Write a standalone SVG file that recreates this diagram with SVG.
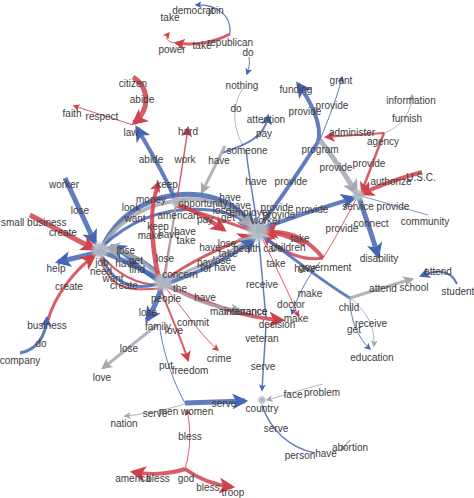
<svg xmlns="http://www.w3.org/2000/svg" width="474" height="498" viewBox="0 0 474 498">
<style>
text{font-family:"Liberation Sans",Arial,sans-serif;font-size:10px;fill:#3c3c3c;text-anchor:middle}
.e{fill:none;stroke-opacity:0.85;stroke-linecap:butt}
.b{stroke:#4466b3}.r{stroke:#d0414c}.g{stroke:#a4a8b0}
.hub{fill:url(#hubg)}
</style>
<defs>
<radialGradient id="hubg"><stop offset="0" stop-color="#a6b0bc"/><stop offset="0.55" stop-color="#b4bdc8" stop-opacity="0.9"/><stop offset="1" stop-color="#c8d0d8" stop-opacity="0"/></radialGradient>
<marker id="bS" viewBox="0 0 10 10" refX="8" refY="5" markerWidth="7" markerHeight="7" markerUnits="userSpaceOnUse" orient="auto"><path d="M0,0L10,5L0,10L2.5,5Z" fill="#4466b3"/></marker>
<marker id="bM" viewBox="0 0 10 10" refX="8" refY="5" markerWidth="11" markerHeight="11" markerUnits="userSpaceOnUse" orient="auto"><path d="M0,0L10,5L0,10L2.5,5Z" fill="#4466b3"/></marker>
<marker id="bL" viewBox="0 0 10 10" refX="8" refY="5" markerWidth="16" markerHeight="16" markerUnits="userSpaceOnUse" orient="auto"><path d="M0,0L10,5L0,10L2.5,5Z" fill="#4466b3"/></marker>
<marker id="rS" viewBox="0 0 10 10" refX="8" refY="5" markerWidth="7" markerHeight="7" markerUnits="userSpaceOnUse" orient="auto"><path d="M0,0L10,5L0,10L2.5,5Z" fill="#d0414c"/></marker>
<marker id="rM" viewBox="0 0 10 10" refX="8" refY="5" markerWidth="11" markerHeight="11" markerUnits="userSpaceOnUse" orient="auto"><path d="M0,0L10,5L0,10L2.5,5Z" fill="#d0414c"/></marker>
<marker id="rL" viewBox="0 0 10 10" refX="8" refY="5" markerWidth="16" markerHeight="16" markerUnits="userSpaceOnUse" orient="auto"><path d="M0,0L10,5L0,10L2.5,5Z" fill="#d0414c"/></marker>
<marker id="gS" viewBox="0 0 10 10" refX="8" refY="5" markerWidth="7" markerHeight="7" markerUnits="userSpaceOnUse" orient="auto"><path d="M0,0L10,5L0,10L2.5,5Z" fill="#a4a8b0"/></marker>
<marker id="gM" viewBox="0 0 10 10" refX="8" refY="5" markerWidth="11" markerHeight="11" markerUnits="userSpaceOnUse" orient="auto"><path d="M0,0L10,5L0,10L2.5,5Z" fill="#a4a8b0"/></marker>
<marker id="gL" viewBox="0 0 10 10" refX="8" refY="5" markerWidth="16" markerHeight="16" markerUnits="userSpaceOnUse" orient="auto"><path d="M0,0L10,5L0,10L2.5,5Z" fill="#a4a8b0"/></marker>
</defs>
<rect width="474" height="498" fill="#ffffff"/>
<g id="connectors">
<path class="e b" stroke-width="1.2" d="M230,34 C232,14 215,4 196,5" marker-end="url(#bS)"/>
<path class="e r" stroke-width="3" d="M230,34 C215,42 195,46 176,43" marker-end="url(#rM)"/>
<path class="e r" stroke-width="1" d="M176,43 C166,42 165,38 169,33" marker-end="url(#rS)"/>
<path class="e b" stroke-width="1" d="M249,57 C250,64 249,68 247,74" marker-end="url(#bS)"/>
<path class="e g" stroke-width="1" d="M243,88 C232,105 232,125 243,146"/>
<path class="e b" stroke-width="2" d="M222,153 C245,145 265,138 268,116" marker-end="url(#bM)"/>
<path class="e b" stroke-width="1.5" d="M246,150 C250,185 255,205 257,226" marker-end="url(#bS)"/>
<path class="e g" stroke-width="3" d="M225,146 L202,192" marker-end="url(#gM)"/>
<path class="e b" stroke-width="4" d="M258,229 C280,200 300,170 318,142 C323,125 310,100 298,84" marker-end="url(#bL)"/>
<path class="e b" stroke-width="1" d="M320,140 C330,115 338,95 342,77" marker-end="url(#bS)"/>
<path class="e g" stroke-width="5" d="M320,140 C335,160 348,178 356,193" marker-end="url(#gL)"/>
<path class="e r" stroke-width="2" d="M384,133 L326,137" marker-end="url(#rM)"/>
<path class="e g" stroke-width="1" d="M384,133 C400,128 412,112 412,95" marker-end="url(#gS)"/>
<path class="e r" stroke-width="2.5" d="M384,133 L362,191" marker-end="url(#rM)"/>
<path class="e r" stroke-width="4" d="M422,172 C400,178 380,185 361,194" marker-end="url(#rL)"/>
<path class="e b" stroke-width="4" d="M260,229 C290,218 320,208 354,198" marker-end="url(#bL)"/>
<path class="e b" stroke-width="5" d="M359,198 C365,215 372,235 378,256" marker-end="url(#bL)"/>
<path class="e b" stroke-width="0.8" d="M428,215 L361,196"/>
<path class="e r" stroke-width="1" d="M323,258 C335,240 347,215 357,198"/>
<path class="e r" stroke-width="4" d="M323,258 C305,235 285,230 265,232" marker-end="url(#rL)"/>
<path class="e r" stroke-width="3" d="M323,258 C300,262 280,250 264,237" marker-end="url(#rM)"/>
<path class="e b" stroke-width="3" d="M262,236 C290,255 320,280 350,298"/>
<path class="e g" stroke-width="3" d="M350,298 C375,290 395,284 412,279" marker-end="url(#gM)"/>
<path class="e b" stroke-width="2" d="M457,284 C452,272 440,268 421,276" marker-end="url(#bM)"/>
<path class="e b" stroke-width="1" d="M350,298 C350,320 358,338 370,349" marker-end="url(#bS)"/>
<path class="e g" stroke-width="1" d="M350,298 C365,310 375,325 374,346" marker-end="url(#gS)"/>
<path class="e b" stroke-width="1.5" d="M258,231 L266,318"/>
<path class="e b" stroke-width="1.5" d="M266,326 L262,390" marker-end="url(#bS)"/>
<path class="e r" stroke-width="1" d="M262,238 C275,265 290,295 298,316" marker-end="url(#rS)"/>
<path class="e b" stroke-width="1" d="M320,262 C305,280 296,300 292,314" marker-end="url(#bS)"/>
<path class="e r" stroke-width="4" d="M165,285 C200,300 240,318 282,320" marker-end="url(#rL)"/>
<path class="e g" stroke-width="3" d="M165,283 C190,300 215,308 240,310" marker-end="url(#gM)"/>
<path class="e r" stroke-width="1" d="M163,285 C185,310 200,335 218,350" marker-end="url(#rS)"/>
<path class="e r" stroke-width="2" d="M160,287 C168,310 180,335 188,360" marker-end="url(#rM)"/>
<path class="e b" stroke-width="5" d="M162,285 C158,300 152,312 147,320" marker-end="url(#bL)"/>
<path class="e g" stroke-width="3" d="M157,325 L103,368" marker-end="url(#gM)"/>
<path class="e b" stroke-width="1" d="M160,330 C165,360 175,385 185,403"/>
<path class="e b" stroke-width="5" d="M185,403 L245,401" marker-end="url(#bL)"/>
<path class="e g" stroke-width="1" d="M185,404 C165,410 145,414 125,416" marker-end="url(#gS)"/>
<path class="e r" stroke-width="1" d="M185,469 C192,445 190,425 187,410" marker-end="url(#rS)"/>
<path class="e r" stroke-width="4" d="M185,469 C170,474 150,475 133,472" marker-end="url(#rL)"/>
<path class="e r" stroke-width="4" d="M185,469 C200,480 215,485 232,487" marker-end="url(#rL)"/>
<path class="e g" stroke-width="1" d="M323,384 C300,390 285,395 267,400" marker-end="url(#gS)"/>
<path class="e b" stroke-width="1.5" d="M262,405 C270,430 290,448 315,453"/>
<path class="e g" stroke-width="1.5" d="M350,440 L341,450" marker-end="url(#gS)"/>
<path class="e b" stroke-width="5" d="M65,178 L95,243" marker-end="url(#bL)"/>
<path class="e r" stroke-width="5" d="M30,215 L94,249" marker-end="url(#rL)"/>
<path class="e b" stroke-width="5" d="M100,252 L58,262" marker-end="url(#bL)"/>
<path class="e r" stroke-width="3" d="M48,320 C55,295 75,270 94,256" marker-end="url(#rL)"/>
<path class="e b" stroke-width="3" d="M20,353 C35,350 45,340 47,318" marker-end="url(#bM)"/>
<path class="e b" stroke-width="5" d="M102,252 C120,258 140,268 160,280"/>
<path class="e b" stroke-width="3" d="M104,248 C130,252 150,262 162,278"/>
<path class="e r" stroke-width="2" d="M100,254 C120,278 140,285 160,285"/>
<path class="e b" stroke-width="4" d="M160,282 C140,270 128,255 113,246" marker-end="url(#bL)"/>
<path class="e b" stroke-width="3" d="M158,284 C130,292 110,280 102,257"/>
<path class="e g" stroke-width="4" d="M163,280 C145,262 130,252 107,248" marker-end="url(#gL)"/>
<path class="e r" stroke-width="2" d="M162,288 C130,292 110,290 100,258"/>
<path class="e b" stroke-width="5" d="M103,246 C120,210 160,190 200,195 C225,198 240,210 253,225" marker-end="url(#bL)"/>
<path class="e g" stroke-width="4" d="M103,246 C120,218 150,202 185,200"/>
<path class="e b" stroke-width="3" d="M103,246 C125,225 160,205 210,210 C230,212 245,220 252,228" marker-end="url(#bL)"/>
<path class="e r" stroke-width="1.5" d="M163,282 C172,230 182,170 188,128" marker-end="url(#rM)"/>
<path class="e b" stroke-width="4" d="M176,202 C165,175 150,150 137,128" marker-end="url(#bL)"/>
<path class="e r" stroke-width="5" d="M133,77 C150,88 150,110 134,123" marker-end="url(#rL)"/>
<path class="e r" stroke-width="1" d="M133,125 L74,106" marker-end="url(#rS)"/>
<path class="e r" stroke-width="3" d="M158,280 C150,240 148,210 158,183" marker-end="url(#rM)"/>
<path class="e r" stroke-width="2" d="M160,186 C150,200 152,240 160,278"/>
<path class="e r" stroke-width="4" d="M176,204 C195,210 210,220 224,230" marker-end="url(#rL)"/>
<path class="e r" stroke-width="3" d="M176,206 C210,215 235,225 252,231"/>
<path class="e g" stroke-width="4" d="M178,200 C205,196 230,205 251,226" marker-end="url(#gL)"/>
<path class="e g" stroke-width="2" d="M176,204 L165,278"/>
<path class="e r" stroke-width="3" d="M165,280 C190,262 215,250 251,236" marker-end="url(#rL)"/>
<path class="e g" stroke-width="3" d="M165,281 C195,268 225,256 252,238" marker-end="url(#gL)"/>
<path class="e b" stroke-width="4" d="M166,284 C200,272 230,258 254,240" marker-end="url(#bL)"/>
<path class="e r" stroke-width="4" d="M305,245 C290,236 275,232 263,232" marker-end="url(#rL)"/>
</g>
<g id="hubs">
<circle id="hub-job" class="hub" cx="100" cy="250" r="10"/>
<circle id="hub-concern" class="hub" cx="163" cy="282" r="11"/>
<circle id="hub-employer" class="hub" cx="258" cy="231" r="13"/>
<circle id="hub-opportunity" class="hub" cx="176" cy="202" r="6"/>
<circle id="hub-service" class="hub" cx="358" cy="195" r="7"/>
<circle id="hub-country" class="hub" cx="262" cy="400" r="5"/>
</g>
<g id="n-top">
<text x="193" y="14">democrat</text><text x="216" y="14">join</text><text x="170" y="21">take</text>
<text x="172" y="53">power</text><text x="202" y="49">take</text><text x="230" y="46">republican</text><text x="248" y="56">do</text>
<text x="242" y="89">nothing</text><text x="236" y="112">do</text>
</g>
<g id="n-law">
<text x="133" y="87">citizen</text><text x="142" y="103">abide</text><text x="72" y="117">faith</text><text x="102" y="120">respect</text><text x="131" y="136">law</text>
<text x="188" y="135">hard</text><text x="185" y="163">work</text><text x="151" y="163">abide</text><text x="219" y="164">have</text>
</g>
<g id="n-attention">
<text x="266" y="123">attention</text><text x="264" y="137">pay</text><text x="247" y="154">someone</text>
</g>
<g id="n-program">
<text x="296" y="93">funding</text><text x="341" y="84">grant</text><text x="305" y="115">provide</text><text x="332" y="109">provide</text>
<text x="411" y="104">information</text><text x="407" y="122">furnish</text><text x="352" y="136">administer</text><text x="383" y="145">agency</text>
<text x="320" y="153">program</text><text x="336" y="171">provide</text><text x="369" y="167">provide</text>
</g>
<g id="n-service">
<text x="256" y="185">have</text><text x="291" y="185">provide</text><text x="391" y="185">authorize</text><text x="421" y="181">U.S.C.</text>
<text x="358" y="210">service</text><text x="312" y="213">provide</text><text x="393" y="210">provide</text><text x="425" y="225">community</text>
<text x="371" y="227">connect</text><text x="342" y="232">provide</text><text x="379" y="262">disability</text>
</g>
<g id="n-government">
<text x="300" y="242">take</text><text x="305" y="272">have</text><text x="325" y="271">government</text>
<text x="383" y="292">attend</text><text x="414" y="291">school</text><text x="438" y="275">attend</text><text x="458" y="295">student</text>
<text x="310" y="297">make</text><text x="291" y="308">doctor</text><text x="349" y="311">child</text>
<text x="371" y="327">receive</text><text x="354" y="333">get</text><text x="372" y="361">education</text>
</g>
<g id="n-decision">
<text x="296" y="322">make</text><text x="277" y="328">decision</text><text x="262" y="288">receive</text><text x="276" y="267">take</text>
<text x="262" y="342">veteran</text><text x="263" y="370">serve</text>
</g>
<g id="n-country">
<text x="293" y="398">face</text><text x="322" y="396">problem</text><text x="262" y="412">country</text><text x="276" y="432">serve</text>
<text x="300" y="459">person</text><text x="326" y="457">have</text><text x="350" y="451">abortion</text>
</g>
<g id="n-menwomen">
<text x="155" y="417">serve</text><text x="186" y="415">men women</text><text x="124" y="427">nation</text><text x="224" y="407">serve</text>
<text x="190" y="440">bless</text><text x="133" y="482">america</text><text x="158" y="482">bless</text><text x="186" y="482">god</text>
<text x="208" y="491">bless</text><text x="233" y="496">troop</text>
</g>
<g id="n-left">
<text x="64" y="188">worker</text><text x="80" y="214">lose</text><text x="1" y="226" style="text-anchor:start">small business</text><text x="63" y="236">create</text>
<text x="56" y="272">help</text><text x="69" y="290">create</text><text x="47" y="329">business</text><text x="41" y="347">do</text><text x="20" y="364">company</text>
</g>
<g id="n-job">
<text x="126" y="254">lose</text><text x="136" y="264">get</text><text x="126" y="267">have</text><text x="137" y="273">find</text>
<text x="102" y="266">job</text><text x="101" y="275">need</text><text x="113" y="282">want</text><text x="124" y="289">create</text>
<text x="131" y="211">look</text><text x="135" y="222">want</text>
</g>
<g id="n-opportunity">
<text x="151" y="203">money</text><text x="167" y="188">keep</text><text x="203" y="207">opportunity</text>
<text x="178" y="219">american</text><text x="205" y="223">pay</text><text x="158" y="230">keep</text><text x="150" y="239">make</text>
<text x="169" y="238">have</text><text x="185" y="235">have</text><text x="186" y="244">take</text>
<text x="230" y="201">have</text><text x="240" y="209">have</text><text x="222" y="214">lose</text><text x="228" y="221">get</text>
</g>
<g id="n-employer">
<text x="250" y="216">employer</text><text x="277" y="211">provide</text><text x="279" y="218">provide</text><text x="266" y="224">worker</text>
<text x="258" y="252">health care</text><text x="288" y="251">children</text>
<text x="210" y="251">have</text><text x="227" y="247">lose</text><text x="228" y="257">take</text>
<text x="205" y="266">pay</text><text x="222" y="264">lose</text><text x="206" y="272">for</text><text x="225" y="271">have</text>
</g>
<g id="n-concern">
<text x="180" y="278">concern</text><text x="165" y="262">lose</text><text x="180" y="292">the</text>
<text x="166" y="302">people</text><text x="205" y="301">have</text>
<text x="210" y="315" style="text-anchor:start">maintenance</text><text x="224" y="315" style="text-anchor:start">insurance</text>
<text x="148" y="316">lose</text><text x="158" y="330">family</text><text x="174" y="334">love</text><text x="193" y="326">commit</text>
<text x="219" y="362">crime</text><text x="166" y="369">put</text><text x="190" y="374">freedom</text>
<text x="129" y="352">lose</text><text x="102" y="381">love</text>
</g>
</svg>
